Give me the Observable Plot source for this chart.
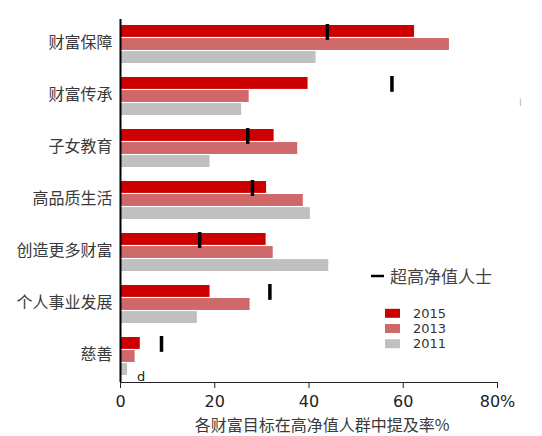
<!DOCTYPE html>
<html>
<head>
<meta charset="utf-8">
<script src="https://cdn.jsdelivr.net/npm/d3@7"></script>
<script src="https://cdn.jsdelivr.net/npm/@observablehq/plot@0.6"></script>
<style>
  html, body { margin: 0; padding: 0; background: #fff; }
  #chart svg { display: block; }
</style>
</head>
<body>
<div id="chart"></div>
<script>
// ---- data ----
const categories = ["财富保障", "财富传承", "子女教育", "高品质生活", "创造更多财富", "个人事业发展", "慈善"];
const years = ["2015", "2013", "2011"];
const v2015 = [62.4, 39.8, 32.6, 31.0, 30.9, 19.0, 4.2];
const v2013 = [69.8, 27.3, 37.6, 38.8, 32.4, 27.5, 3.1];
const v2011 = [41.5, 25.7, 19.0, 40.3, 44.2, 16.3, 1.5];
const vUHNW = [43.9, 57.6, 27.0, 28.0, 16.8, 31.7, 8.7];
const xTicks = [0, 20, 40, 60, 80];
const colors = ["#cc0000", "#cf6868", "#c0c0c0"];
const uhnwLabel = "超高净值人士";
const xLabel = "各财富目标在高净值人群中提及率%";

// ---- layout ----
const W = 542, H = 436;
const mL = 120, mR = 45, mT = 19, mB = 54;
const pIn = 0.268, pOut = 0.115;
const step = (H - mT - mB) / (categories.length - pIn + 2 * pOut);
const bw = step * (1 - pIn);
const bh = (bw - 2) / 3;

const rows = (vals, year) => categories.map((c, i) => ({cat: c, year, value: vals[i]}));
const d2015 = rows(v2015, "2015");
const d2013 = rows(v2013, "2013");
const d2011 = rows(v2011, "2011");
const dU = rows(vUHNW, "uhnw");

const cjk = "'Noto Sans CJK SC', 'Noto Sans', sans-serif";
const num = "'DejaVu Sans', sans-serif";

const plot = Plot.plot({
  width: W,
  height: H,
  marginLeft: mL,
  marginRight: mR,
  marginTop: mT,
  marginBottom: mB,
  style: {fontFamily: num, fontSize: "16px", color: "#222", background: "#fff"},
  x: {domain: [0, 80], ticks: xTicks, tickFormat: d => d === 80 ? "80%" : String(d),
      tickSize: 6, tickPadding: 7, label: null, line: true},
  y: {domain: categories, paddingInner: pIn, paddingOuter: pOut, axis: null},
  color: {domain: years, range: colors},
  marks: [
    Plot.barX(d2015, {x: "value", y: "cat", fill: "year", insetBottom: bw - bh}),
    Plot.barX(d2013, {x: "value", y: "cat", fill: "year", insetTop: bh + 1, insetBottom: bh + 1}),
    Plot.barX(d2011, {x: "value", y: "cat", fill: "year", insetTop: bw - bh}),
    Plot.tickX(dU, {x: "value", y: "cat", stroke: "#000", strokeWidth: 3.5, insetTop: -1, insetBottom: bw - 15}),
    Plot.ruleX([0], {stroke: "#000", strokeWidth: 2}),
    Plot.text(categories, {x: () => 0, y: d => d, dx: -8, dy: -2, textAnchor: "end",
      fontSize: 16, fontFamily: cjk, fill: "#3a3a3a"}),
    Plot.text([xLabel], {frameAnchor: "bottom", lineAnchor: "middle", dx: 13, dy: 43,
      fontSize: 16, fontFamily: cjk, fill: "#3a3a3a"})
  ]
});
document.getElementById("chart").appendChild(plot);

// ---- in-chart legend ----
const svg = d3.select(plot);
const lg = svg.append("g").attr("text-anchor", "start");
lg.append("line").attr("x1", 371).attr("x2", 384).attr("y1", 276).attr("y2", 276)
  .attr("stroke", "#000").attr("stroke-width", 2.5);
lg.append("text").attr("x", 390).attr("y", 277).attr("dy", "0.35em")
  .attr("font-family", cjk).attr("font-size", 17).attr("fill", "#444").text(uhnwLabel);
years.forEach((y, i) => {
  const cy = 313.3 + i * 15.2;
  lg.append("rect").attr("x", 385).attr("y", cy - 4.5).attr("width", 15).attr("height", 9)
    .attr("fill", colors[i]);
  lg.append("text").attr("x", 413).attr("y", cy).attr("dy", "0.36em")
    .attr("font-family", num).attr("font-size", 13).attr("fill", "#333").text(y);
});
// small stray marks visible in the reference
lg.append("text").attr("x", 137).attr("y", 381).attr("font-family", num).attr("font-size", 13)
  .attr("fill", "#222").text("d");
lg.append("text").attr("x", 519).attr("y", 106).attr("font-family", num).attr("font-size", 10)
  .attr("fill", "#aaa").text("i");
</script>
</body>
</html>
